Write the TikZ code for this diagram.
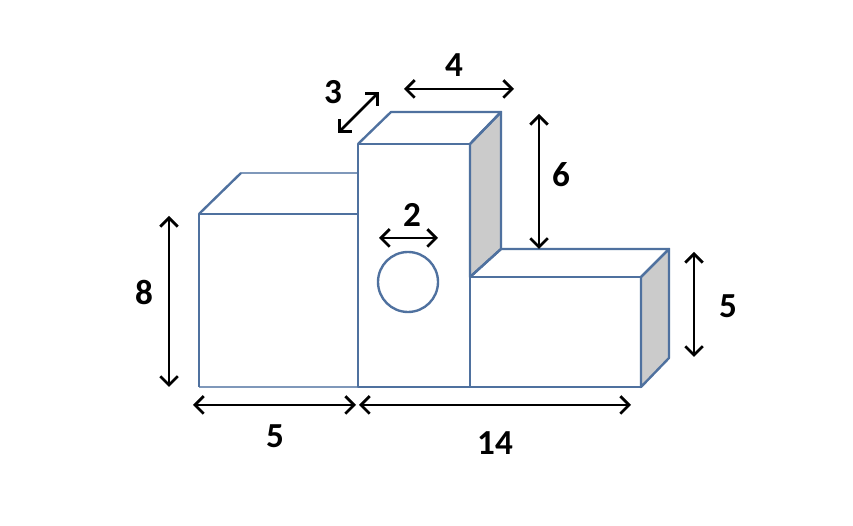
\documentclass[tikz,border=0pt]{standalone}
\usepackage{fontspec}
\setmainfont{Carlito}
\usepackage{xcolor}
\usetikzlibrary{arrows.meta}
\definecolor{edgeblue}{HTML}{4F719F}
\definecolor{edgelight}{HTML}{7F98BA}
\definecolor{sidegray}{HTML}{CBCBCB}
\tikzset{
	edge/.style={line width=1.35pt,edgeblue,line join=round},
	faint/.style={line width=1.1pt,edgelight},
	side/.style={edge,fill=sidegray},
	dim/.style={line width=1.55pt,black,{Straight Barb[length=5pt,width=10pt]}-{Straight Barb[length=5pt,width=10pt]}},
	num/.style={font=\bfseries\fontsize{20}{20}\selectfont,black,inner sep=0pt}
}
\begin{document}
\begin{tikzpicture}[x=0.02cm,y=-0.02cm]
	\useasboundingbox (0,0) rectangle (853,526);
	\fill[white] (0,0) rectangle (853,526);
	% left block
	\draw[faint] (199,387)--(358,387);
	\draw[faint] (241,173)--(358,173);
	\draw[edge] (199,387)--(199,214)--(358,214);
	\draw[edge] (199,214)--(241,173);
	% middle block
	\draw[side] (470,144)--(501,112)--(501,249)--(470,277)--cycle;
	\draw[edge] (358,144) rectangle (470,387);
	\draw[edge] (358,144)--(391,112)--(501,112)--(470,144);
	\draw[edge] (408,282) circle (30);
	% right block
	\draw[side] (641,277)--(669,249)--(669,358)--(641,387)--cycle;
	\draw[edge] (470,277) rectangle (641,387);
	\draw[edge] (470,277)--(501,249)--(669,249)--(641,277);
	% dimension ends
	\coordinate (d3a) at (338,133);
	\coordinate (d3b) at (379,92);
	\coordinate (d4a) at (404,89);
	\coordinate (d4b) at (514,89);
	\coordinate (d6a) at (539,114);
	\coordinate (d6b) at (539,249);
	\coordinate (d2a) at (379,238);
	\coordinate (d2b) at (438,238);
	\coordinate (d8a) at (169,216);
	\coordinate (d8b) at (169,387);
	\coordinate (d5a) at (193,405);
	\coordinate (d5b) at (356,405);
	\coordinate (d14a) at (359,405);
	\coordinate (d14b) at (631,405);
	\coordinate (dra) at (694,252);
	\coordinate (drb) at (694,357);
	\draw[dim] (d3a)--(d3b);
	\draw[dim] (d4a)--(d4b);
	\draw[dim] (d6a)--(d6b);
	\draw[dim] (d2a)--(d2b);
	\draw[dim] (d8a)--(d8b);
	\draw[dim] (d5a)--(d5b);
	\draw[dim] (d14a)--(d14b);
	\draw[dim] (dra)--(drb);
	% labels
	\node[num] (n3) at (333,92) {3};
	\node[num] (n4) at (454,65) {4};
	\node[num] (n6) at (561,175) {6};
	\node[num] (n2) at (412,215) {2};
	\node[num] (n8) at (144,293) {8};
	\node[num] (n5) at (275,436) {5};
	\node[num] (n14) at (495,443) {14};
	\node[num] (nr) at (728,306) {5};
\end{tikzpicture}
\end{document}
